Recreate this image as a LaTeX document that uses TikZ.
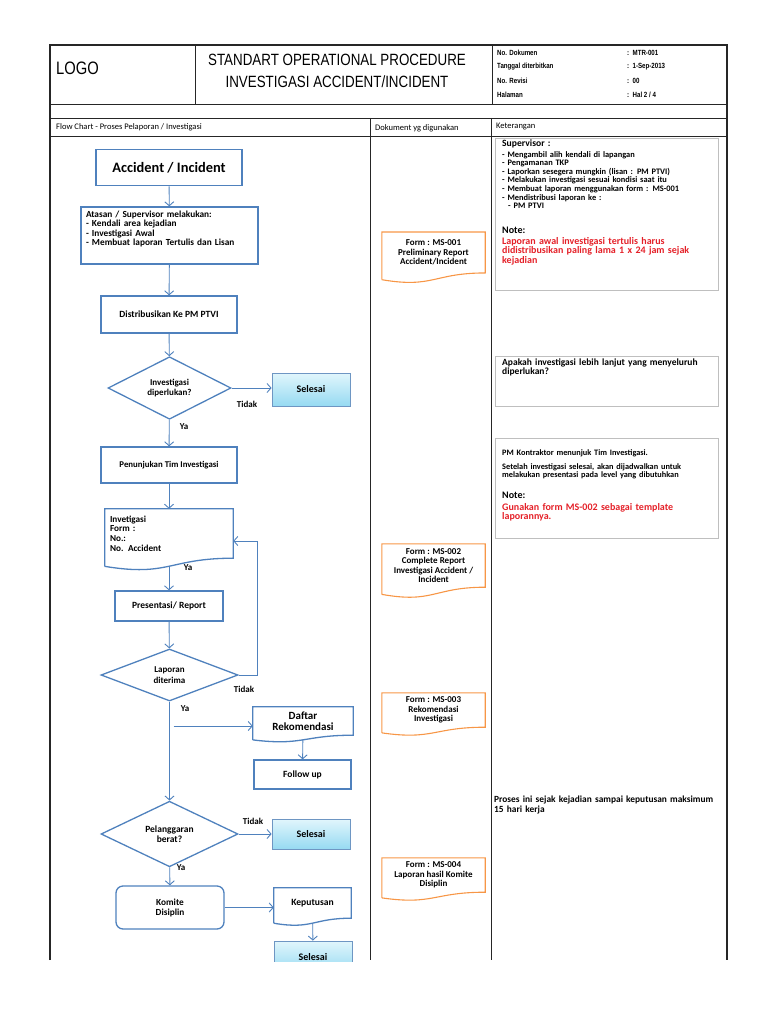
\documentclass[tikz,border=0pt]{standalone}
\usepackage{fontspec}
\setmainfont{Carlito}
\newfontfamily\narrowfont[FakeStretch=0.82]{Liberation Sans}
\usetikzlibrary{shapes.geometric}
\usetikzlibrary{arrows.meta}
\usetikzlibrary{calc}
\definecolor{blue1}{RGB}{79, 129, 189}
\definecolor{blue2}{RGB}{110, 150, 195}
\definecolor{orange1}{RGB}{247, 150, 70}
\definecolor{gray1}{RGB}{191, 191, 191}
\definecolor{red1}{RGB}{228, 32, 40}
\definecolor{cyan1}{RGB}{225, 246, 252}
\definecolor{cyan2}{RGB}{150, 218, 242}
% document shape: wavy bottom under the body node #1
\newcommand{\docwave}[2]{%
  \draw[#2] ($(#1.south west)!-0.165!(#1.north west)$) -- (#1.north west) -- (#1.north east)
    -- (#1.south east) .. controls (#1.south) and ($(#1.south)!-0.38!(#1.north)$)
    .. ($(#1.south west)!-0.165!(#1.north west)$);
}

\begin{document}
\begin{tikzpicture}[x=1pt, y=-1pt,
  box/.style={rectangle, draw=blue1, line width=1.3pt, align=center,
    font=\bfseries\fontsize{9.5}{10.5}\selectfont},
  decision/.style={diamond, draw=blue1, line width=1.3pt, align=center, inner sep=0pt,
    font=\bfseries\fontsize{9}{10.5}\selectfont},
  stopbox/.style={rectangle, draw=blue2, line width=0.8pt, top color=cyan1, bottom color=cyan2,
    font=\bfseries\fontsize{10}{11}\selectfont},
  docbody/.style={rectangle, align=center, inner sep=2pt},
  formtext/.style={docbody, font=\bfseries\fontsize{9}{9.5}\selectfont},
  flowarrow/.style={draw=blue1, line width=0.9pt, -{Straight Barb[length=4pt,width=9pt]}},
  answer/.style={font=\bfseries\fontsize{9}{10}\selectfont, inner sep=0pt},
  note/.style={anchor=north west, align=left, inner sep=0pt, text width=215pt},
  frame/.style={line width=1.4pt, draw=black!85},
  rule/.style={line width=0.9pt, draw=black!85}]
\useasboundingbox (0,0) rectangle (768,1024);
\begin{scope}
\clip (0,0) rectangle (768,961);

% frame and table lines
\draw[frame] (50,960) -- (50,45) -- (727,45) -- (727,960);
\foreach \y in {104, 118, 136}
  \draw[rule] (50,\y) -- (727,\y);
\draw[rule] (195,45) -- (195,104);
\draw[rule] (492,45) -- (492,104);
\draw[rule] (370,118) -- (370,960);
\draw[rule] (491,118) -- (491,960);

% header
\node[anchor=west, font=\narrowfont\fontsize{18}{20}\selectfont, inner sep=0pt] (logo) at (56,68) {LOGO};
\node[font=\narrowfont\fontsize{16.3}{18}\selectfont] (title1) at (337,60) {STANDART OPERATIONAL PROCEDURE};
\node[font=\narrowfont\fontsize{16.3}{18}\selectfont] (title2) at (337,82) {INVESTIGASI ACCIDENT/INCIDENT};
\foreach \n/\y/\lab/\val in {1/53/No. Dokumen/MTR-001, 2/67/Tanggal diterbitkan/1-Sep-2013,
    3/81/No. Revisi/00, 4/95/Halaman/{Hal 2 / 4}} {
  \node[anchor=west, inner sep=0pt, font=\narrowfont\bfseries\fontsize{7.5}{8}\selectfont] (lab\n) at (497,\y) {\lab};
  \node[anchor=west, inner sep=0pt, font=\narrowfont\bfseries\fontsize{7.5}{8}\selectfont] (val\n) at (627,\y) {:\ \ \val};
}
\node[anchor=west, inner sep=0pt, font=\fontsize{8.5}{10}\selectfont] (colflow) at (56,127) {Flow Chart - Proses Pelaporan / Investigasi};
\node[anchor=west, inner sep=0pt, font=\fontsize{8.5}{10}\selectfont] (coldoc) at (375,128) {Dokument yg digunakan};
\node[anchor=west, inner sep=0pt, font=\fontsize{8.5}{10}\selectfont] (colket) at (496,127) {Keterangan};

% flow chart
\node[box, line width=1.8pt, minimum width=146pt, minimum height=36pt,
  font=\bfseries\fontsize{14.4}{16}\selectfont] (acc) at (169,167.5) {Accident / Incident};
\node[box, minimum width=177pt, minimum height=57pt, align=left, text width=167pt,
  font=\bfseries\fontsize{9.3}{9.6}\selectfont] (atasan) at (169.5,235.5)
  {Atasan / Supervisor melakukan:\\- Kendali area kejadian\\- Investigasi Awal\\- Membuat laporan Tertulis dan Lisan\\[5pt]\mbox{}};
\node[box, minimum width=136pt, minimum height=37pt] (distrib) at (169,314.5) {Distribusikan Ke PM PTVI};
\node[decision, minimum width=123pt, minimum height=60pt] (inv) at (169.5,388) {Investigasi\\diperlukan?};
\node[stopbox, minimum width=78pt, minimum height=33pt] (sel1) at (311,389.5) {Selesai};
\node[box, minimum width=136pt, minimum height=36pt, font=\bfseries\fontsize{8.8}{10}\selectfont] (tunjuk) at (169,465) {Penunjukan Tim Investigasi};
\node[docbody, minimum width=128pt, minimum height=49pt, text width=118pt, align=left,
  font=\bfseries\fontsize{9.2}{9.6}\selectfont] (invdoc) at (169,533.5) {Invetigasi\\Form :\\No.:\\No. Accident};
\docwave{invdoc}{draw=blue1, line width=1.3pt}
\node[box, minimum width=108pt, minimum height=30pt] (pres) at (169,606) {Presentasi/ Report};
\node[decision, minimum width=137pt, minimum height=52pt] (lap) at (169.5,675) {Laporan\\diterima};
\node[docbody, minimum width=100pt, minimum height=28pt,
  font=\bfseries\fontsize{11}{11}\selectfont] (daftar) at (303,721) {Daftar\\Rekomendasi};
\docwave{daftar}{draw=blue1, line width=1.3pt}
\node[box, minimum width=97pt, minimum height=29pt] (follow) at (302.5,774.5) {Follow up};
\node[decision, minimum width=137pt, minimum height=50pt, font=\bfseries\fontsize{9.5}{10.5}\selectfont] (pel) at (169.5,834) {Pelanggaran\\berat?};
\node[stopbox, minimum width=78pt, minimum height=30pt] (sel2) at (311,834) {Selesai};
\node[box, rounded corners=7pt, minimum width=108pt, minimum height=43pt, font=\bfseries\fontsize{9.3}{10}\selectfont] (komite) at (170,907.5) {Komite\\Disiplin};
\node[docbody, minimum width=77pt, minimum height=30pt,
  font=\bfseries\fontsize{9.6}{10}\selectfont] (keput) at (312.5,903) {Keputusan};
\docwave{keput}{draw=blue1, line width=1.3pt}
\node[stopbox, minimum width=78pt, minimum height=32pt] (sel3) at (313,957) {Selesai};

\foreach \from/\to in {acc/atasan, atasan/distrib, distrib/inv, inv/tunjuk, tunjuk/invdoc,
    pres/lap, lap/pel, pel/komite}
  \draw[flowarrow] (\from) -- (\to);
\draw[flowarrow] (inv) -- (inv -| sel1.west);
\draw[flowarrow] (pel) -- (pel -| sel2.west);
\draw[flowarrow] (komite) -- (komite -| keput.west);
\draw[flowarrow, shorten <=8pt] (invdoc) -- (pres);
\draw[flowarrow, shorten <=4.5pt] (daftar) -- (follow);
\draw[flowarrow, shorten <=5pt] (keput) -- (sel3);
\coordinate (back) at (257,541);
\draw[flowarrow] (lap.east) -| (back) -- (back -| invdoc.east);
\coordinate (split) at (169.5,726);
\draw[flowarrow, shorten <=4pt] (split) -- (split -| daftar.west);

\node[answer] (tidak1) at (247,404) {Tidak};
\node[answer] (ya1) at (184,427) {Ya};
\node[answer] (ya2) at (188,568) {Ya};
\node[answer] (tidak2) at (244,689) {Tidak};
\node[answer] (ya3) at (185,709) {Ya};
\node[answer] (tidak3) at (253,821) {Tidak};
\node[answer] (ya4) at (181,868) {Ya};

% dokumen yang digunakan
\node[formtext, minimum width=103pt, minimum height=40.5pt] (ms1) at (433.5,252.5)
  {Form : MS-001\\Preliminary Report\\Accident/Incident};
\docwave{ms1}{draw=orange1, line width=1.1pt}
\node[formtext, minimum width=103pt, minimum height=43pt] (ms2) at (433.5,565.5)
  {Form : MS-002\\Complete Report\\Investigasi Accident /\\Incident};
\docwave{ms2}{draw=orange1, line width=1.1pt}
\node[formtext, minimum width=103pt, minimum height=34pt] (ms3) at (433.5,710)
  {Form : MS-003\\Rekomendasi\\Investigasi};
\docwave{ms3}{draw=orange1, line width=1.1pt}
\node[formtext, minimum width=103pt, minimum height=34pt] (ms4) at (433.5,875)
  {Form : MS-004\\Laporan hasil Komite\\Disiplin};
\docwave{ms4}{draw=orange1, line width=1.1pt}

% keterangan
\draw[draw=gray1, line width=1pt] (495,139) rectangle (718,290);
\draw[draw=gray1, line width=1pt] (495,356) rectangle (718,406);
\draw[draw=gray1, line width=1pt] (495,438) rectangle (718,538);
\node[note, font=\bfseries\fontsize{9.6}{10}\selectfont] (supv) at (502,140) {Supervisor :};
\node[note, font=\bfseries\fontsize{8.4}{8.6}\selectfont] (supvlist) at (502,151)
  {- Mengambil alih kendali di lapangan\\- Pengamanan TKP\\- Laporkan sesegera mungkin (lisan : PM PTVI)\\- Melakukan investigasi sesuai kondisi saat itu\\- Membuat laporan menggunakan form : MS-001\\- Mendistribusi laporan ke :\\\hspace*{6pt}- PM PTVI};
\node[note, font=\bfseries\fontsize{10}{10}\selectfont] (note1) at (502,227) {Note:};
\node[note, text=red1, font=\bfseries\fontsize{10}{9.4}\selectfont] (red1txt) at (502,237)
  {Laporan awal investigasi tertulis harus\\didistribusikan paling lama 1 x 24 jam sejak\\kejadian};
\node[note, font=\bfseries\fontsize{9.5}{8.6}\selectfont] (lanjut) at (502,359)
  {Apakah investigasi lebih lanjut yang menyeluruh\\diperlukan?};
\node[note, font=\bfseries\fontsize{8.3}{8.4}\selectfont] (tim) at (502,449)
  {PM Kontraktor menunjuk Tim Investigasi.\\[6pt]Setelah investigasi selesai, akan dijadwalkan untuk\\melakukan presentasi pada level yang dibutuhkan};
\node[note, font=\bfseries\fontsize{10}{10}\selectfont] (note2) at (502,492) {Note:};
\node[note, text=red1, font=\bfseries\fontsize{10}{9.4}\selectfont] (red2txt) at (502,503)
  {Gunakan form MS-002 sebagai template\\laporannya.};
\node[note, font=\bfseries\fontsize{9.4}{9.2}\selectfont, text width=230pt] (proses) at (494,796)
  {Proses ini sejak kejadian sampai keputusan maksimum\\15 hari kerja};
\end{scope}
\end{tikzpicture}
\end{document}
